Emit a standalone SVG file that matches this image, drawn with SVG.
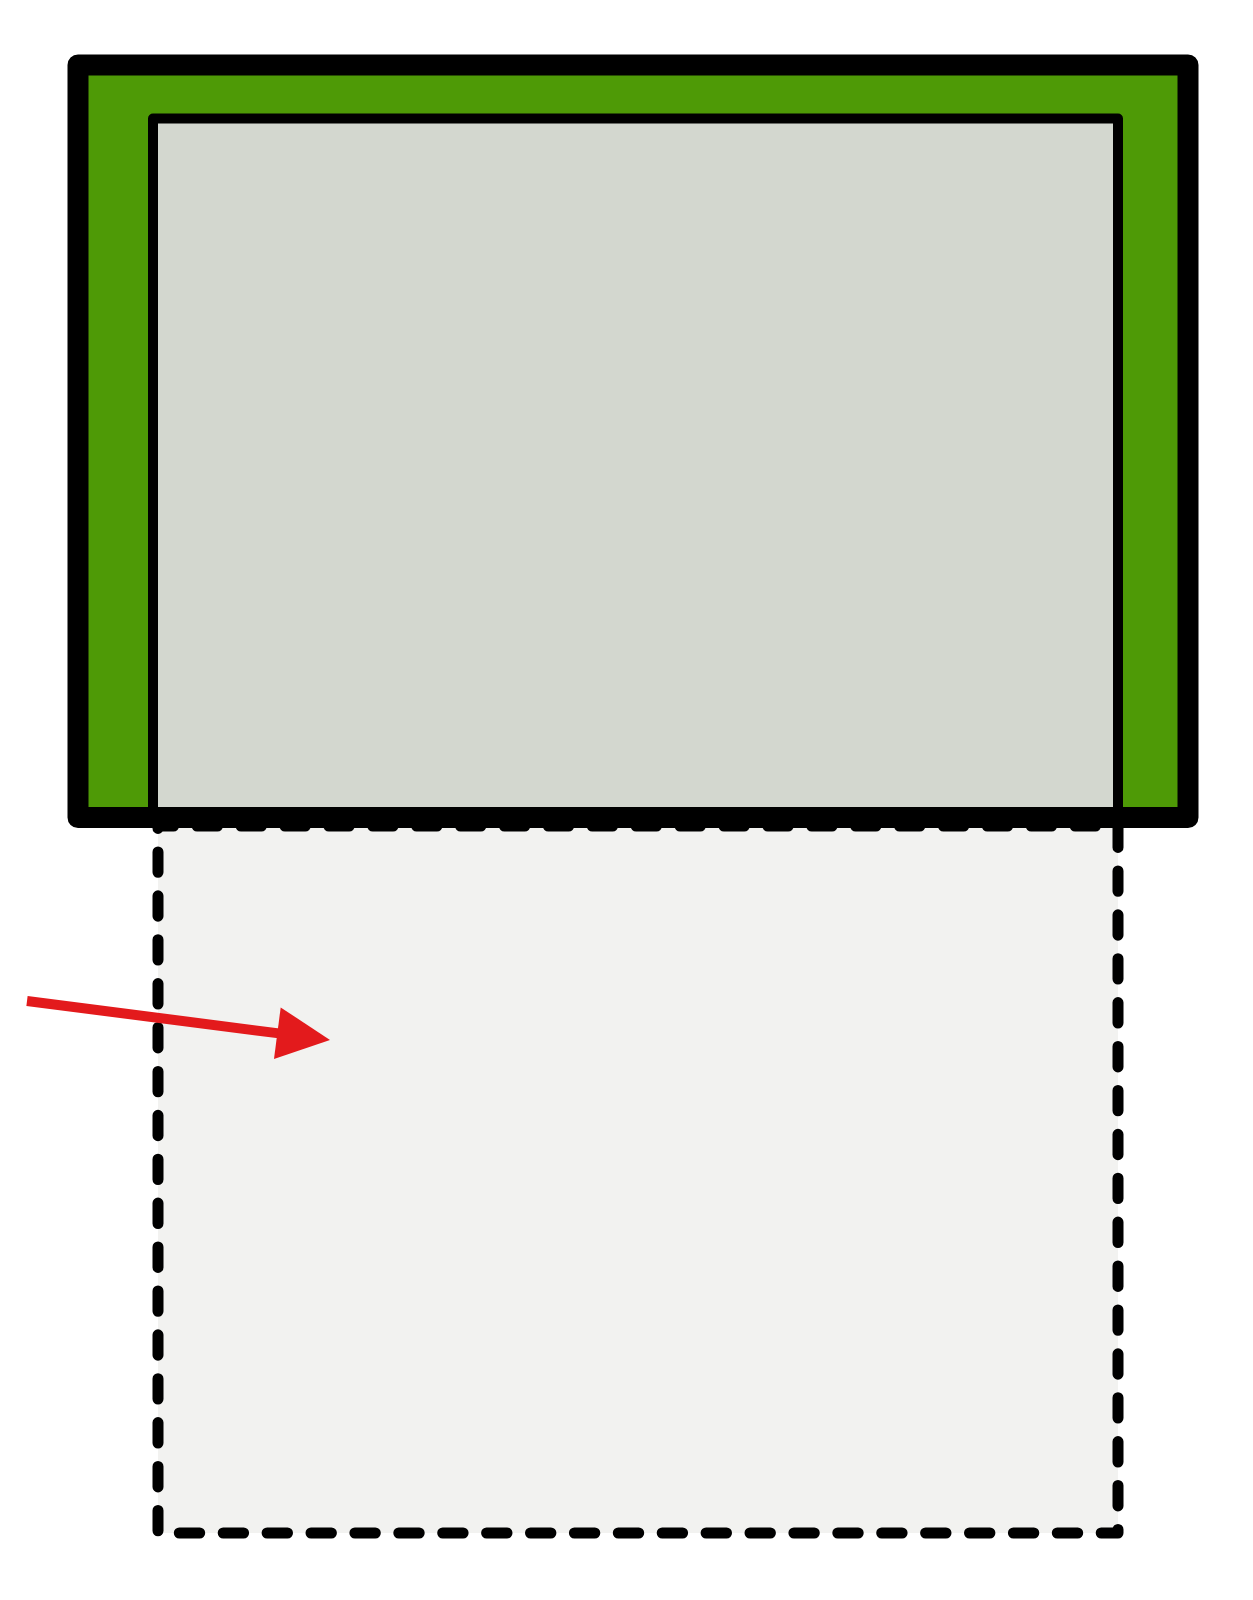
<svg xmlns="http://www.w3.org/2000/svg" width="1253" height="1600" viewBox="0 0 1253 1600">
<style>
.dash{fill:#f2f2f0;stroke:#000;stroke-width:11;stroke-linecap:round;stroke-linejoin:round;stroke-dasharray:20.4 23.5;stroke-dashoffset:18}
.outer{fill:#4e9a06;stroke:#000;stroke-width:21;stroke-linejoin:round}
.inner{fill:#d3d7cf;stroke:#000;stroke-width:10;stroke-linejoin:round}
.arrow{stroke:#e31a1c;stroke-width:10;fill:none}
</style>
<rect width="1253" height="1600" fill="#ffffff"/>
<g id="ghost">
<path class="dash" d="M158,826 L158,1533 L1118,1533 L1118,826 Z"/>
</g>
<g id="outer">
<rect class="outer" x="78" y="65" width="1110" height="752.5"/>
</g>
<g id="inner">
<rect class="inner" x="153" y="118.5" width="965" height="693.5"/>
</g>
<g id="connectors">
<line class="arrow" x1="27" y1="1001" x2="279" y2="1033.4"/>
<polygon points="330,1040 280.7,1007.4 274,1059" fill="#e31a1c"/>
</g>
</svg>
